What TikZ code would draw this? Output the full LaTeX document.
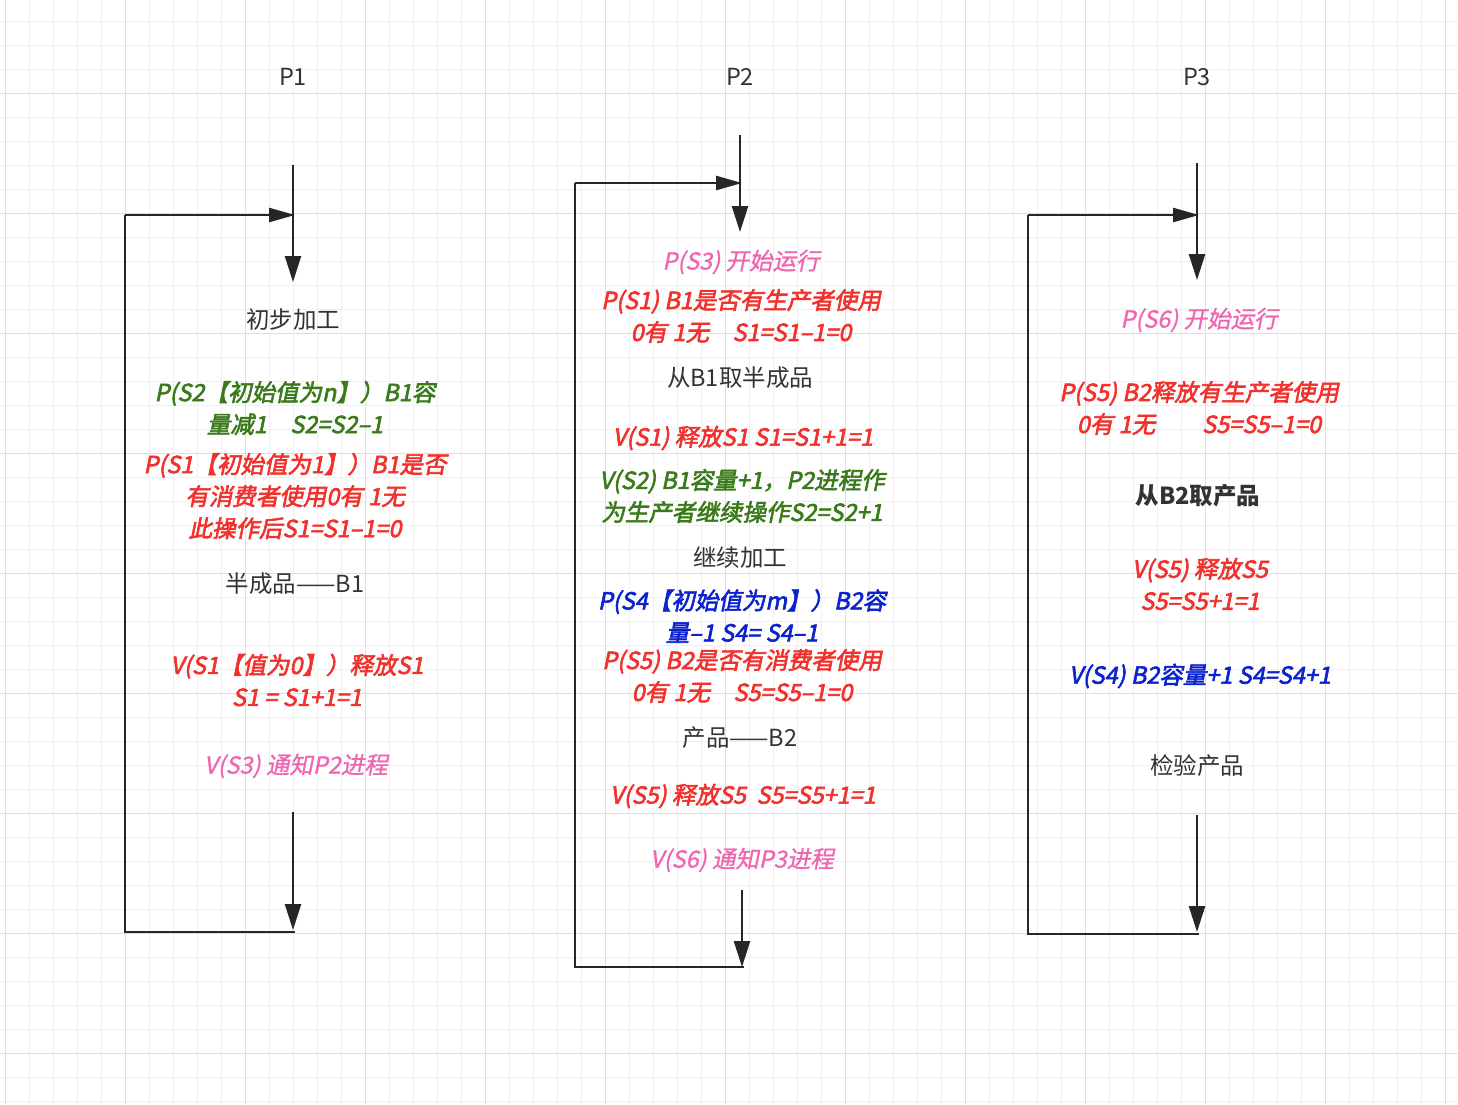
\documentclass[tikz,border=0pt]{standalone}
\usepackage{fontspec}
\setmainfont{Noto Sans CJK SC}
\newfontfamily\myit{Noto Sans CJK SC}[FakeSlant=0.2,FakeBold=1]
\newfontfamily\mybi{Noto Sans CJK SC}[FakeSlant=0.2,FakeBold=2.5]
\usetikzlibrary{arrows.meta}
\definecolor{cg}{HTML}{3B7A1B}
\definecolor{cr}{HTML}{F2302C}
\definecolor{cp}{HTML}{EE66B0}
\definecolor{cb}{HTML}{0A22D0}
\begin{document}
\begin{tikzpicture}[x=1pt,y=-1pt,
 line/.style={line width=2.4pt,draw=black!85},
 arr/.style={line,-{Triangle[length=26pt,width=16pt]}},
 harr/.style={line,-{Triangle[length=26pt,width=14pt]}},
 t/.style={font=\fontsize{23.5}{32}\selectfont,text=black!80,align=center,inner sep=0},
 g/.style={t,font=\fontsize{23.5}{32}\selectfont\mybi,text=cg},
 r/.style={t,font=\fontsize{23.5}{32}\selectfont\mybi,text=cr},
 p/.style={t,font=\fontsize{23.5}{32}\selectfont\myit,text=cp},
 b/.style={t,font=\fontsize{23.5}{32}\selectfont\mybi,text=cb}]
\useasboundingbox (0,0) rectangle (1458,1104);
\fill[white] (0,0) rectangle (1458,1104);
\foreach \x in {5,29,...,1458} \draw[gray!12,line width=0.8pt] (\x,0)--(\x,1104);
\foreach \y in {21,45,...,1104} \draw[gray!12,line width=0.8pt] (0,\y)--(1458,\y);
\foreach \x in {5,125,...,1458} \draw[gray!25,line width=1pt] (\x,0)--(\x,1104);
\foreach \y in {93,213,...,1104} \draw[gray!25,line width=1pt] (0,\y)--(1458,\y);
% titles
\node[t] (h1) at (293,77) {P1};
\node[t] (h2) at (740,77) {P2};
\node[t] (h3) at (1197,77) {P3};
% P1
\coordinate (a1) at (293,165); \coordinate (a2) at (293,282);
\coordinate (l1) at (125,215); \coordinate (l2) at (125,932);
\coordinate (m1) at (295,215); \coordinate (m2) at (295,932);
\coordinate (d1) at (293,812); \coordinate (d2) at (293,930);
\draw[arr] (a1)--(a2);
\draw[line] (m2)--(l2)--(l1);
\draw[harr] (l1)--(m1);
\draw[arr] (d1)--(d2);
\node[t] (p11) at (293,320) {初步加工};
\node[g] (p12) at (295,408) {P(S2【初始值为n】）B1容\\量减1\quad S2=S2–1};
\node[r] (p13) at (295,496) {P(S1【初始值为1】）B1是否\\有消费者使用0有 1无\\此操作后S1=S1–1=0};
\node[t] (p14) at (295,584) {半成品——B1};
\node[r] (p15) at (297,680) {V(S1【值为0】）释放S1\\S1 = S1+1=1};
\node[p] (p16) at (296,766) {V(S3) 通知P2进程};
% P2
\coordinate (a3) at (740,135); \coordinate (a4) at (740,232);
\coordinate (l3) at (575,183); \coordinate (l4) at (575,967);
\coordinate (m3) at (742,183); \coordinate (m4) at (744,967);
\coordinate (d3) at (742,890); \coordinate (d4) at (742,967);
\draw[arr] (a3)--(a4);
\draw[line] (m4)--(l4)--(l3);
\draw[harr] (l3)--(m3);
\draw[arr] (d3)--(d4);
\node[p] (p21) at (741,262) {P(S3) 开始运行};
\node[r] (p22) at (741,316) {P(S1) B1是否有生产者使用\\0有 1无\quad S1=S1–1=0};
\node[t] (p23) at (740,378) {从B1取半成品};
\node[r] (p24) at (743,438) {V(S1) 释放S1 S1=S1+1=1};
\node[g] (p25) at (742,496) {V(S2) B1容量+1，P2进程作\\为生产者继续操作S2=S2+1};
\node[t] (p26) at (740,558) {继续加工};
\node[b] (p27) at (742,616) {P(S4【初始值为m】）B2容\\量–1 S4= S4–1};
\node[r] (p28) at (742,676) {P(S5) B2是否有消费者使用\\0有 1无\quad S5=S5–1=0};
\node[t] (p29) at (740,738) {产品——B2};
\node[r] (p210) at (743,796) {V(S5) 释放S5\ \ S5=S5+1=1};
\node[p] (p211) at (742,860) {V(S6) 通知P3进程};
% P3
\coordinate (a5) at (1197,163); \coordinate (a6) at (1197,280);
\coordinate (l5) at (1028,215); \coordinate (l6) at (1028,934);
\coordinate (m5) at (1199,215); \coordinate (m6) at (1199,934);
\coordinate (d5) at (1197,815); \coordinate (d6) at (1197,932);
\draw[arr] (a5)--(a6);
\draw[line] (m6)--(l6)--(l5);
\draw[harr] (l5)--(m5);
\draw[arr] (d5)--(d6);
\node[p] (p31) at (1199,320) {P(S6) 开始运行};
\node[r] (p32) at (1199,408) {P(S5) B2释放有生产者使用\\0有 1无\qquad S5=S5–1=0};
\node[t,font=\fontsize{23.5}{32}\selectfont\bfseries] (p33) at (1198,496) {从B2取产品};
\node[r] (p34) at (1200,584) {V(S5) 释放S5\\S5=S5+1=1};
\node[b] (p35) at (1200,676) {V(S4) B2容量+1 S4=S4+1};
\node[t] (p36) at (1197,766) {检验产品};
\end{tikzpicture}
\end{document}
